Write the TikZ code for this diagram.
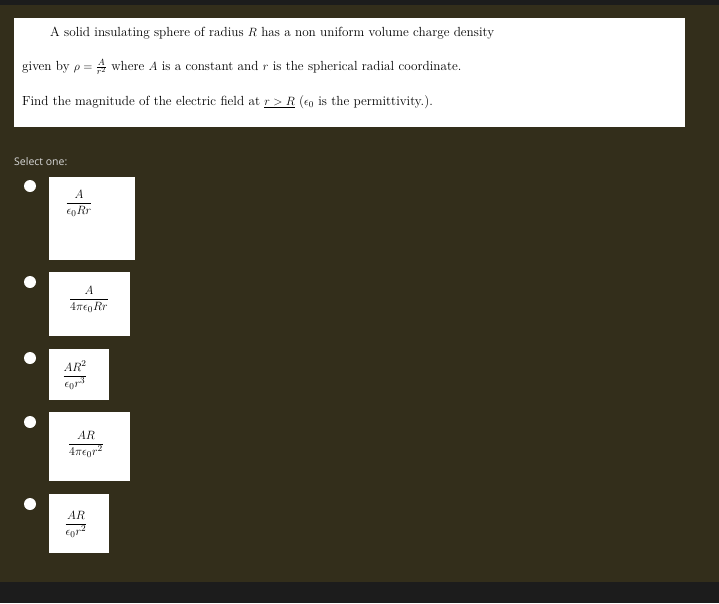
\documentclass[tikz,border=0pt]{standalone}
\usepackage{fontspec}
\newfontfamily\uifont{Open Sans}
\definecolor{bg}{HTML}{332E1B}
\definecolor{bar}{HTML}{1C1C1C}
\begin{document}
\begin{tikzpicture}[x=1pt,y=-1pt,
  txt/.style={anchor=west,inner sep=0pt,font=\fontsize{13.2}{15}\selectfont},
  wbox/.style={fill=white,draw=none},
  radio/.style={circle,fill=white,minimum size=12pt,inner sep=0pt},
  ans/.style={inner sep=0pt,font=\fontsize{13}{15}\selectfont}]
\fill[bg] (0,0) rectangle (719,603);
\fill[bar] (0,0) rectangle (719,5);
\fill[bar] (0,582) rectangle (719,603);
\fill[wbox] (14,18) rectangle (685,127);
\node[txt] (l1) at (50,33) {A solid insulating sphere of radius $R$ has a non uniform volume charge density};
\node[txt] (l2) at (22,67) {given by $\rho=\frac{A}{r^2}$ where $A$ is a constant and $r$ is the spherical radial coordinate.};
\node[txt] (l3) at (22,102) {Find the magnitude of the electric field at \underline{$r>R$} ($\epsilon_0$ is the permittivity.).};
\node[anchor=west,inner sep=0pt,text=white!85!black,font=\uifont\fontsize{10.5}{12}\selectfont] (sel) at (14,162) {Select one:};
\foreach \y/\n in {186/r1,282/r2,358/r3,422/r4,504/r5} \node[radio] (\n) at (30,\y) {};
\fill[wbox] (49,177) rectangle (135,260);
\fill[wbox] (49,272) rectangle (130,336);
\fill[wbox] (49,349) rectangle (109,400);
\fill[wbox] (49,412) rectangle (130,481);
\fill[wbox] (49,494) rectangle (109,553);
\node[ans] (a1) at (79,203) {$\displaystyle\frac{A}{\epsilon_0 Rr}$};
\node[ans] (a2) at (89,299) {$\displaystyle\frac{A}{4\pi\epsilon_0 Rr}$};
\node[ans] (a3) at (75,375) {$\displaystyle\frac{AR^2}{\epsilon_0 r^3}$};
\node[ans] (a4) at (86,444) {$\displaystyle\frac{AR}{4\pi\epsilon_0 r^2}$};
\node[ans] (a5) at (76,524) {$\displaystyle\frac{AR}{\epsilon_0 r^2}$};
\end{tikzpicture}
\end{document}
